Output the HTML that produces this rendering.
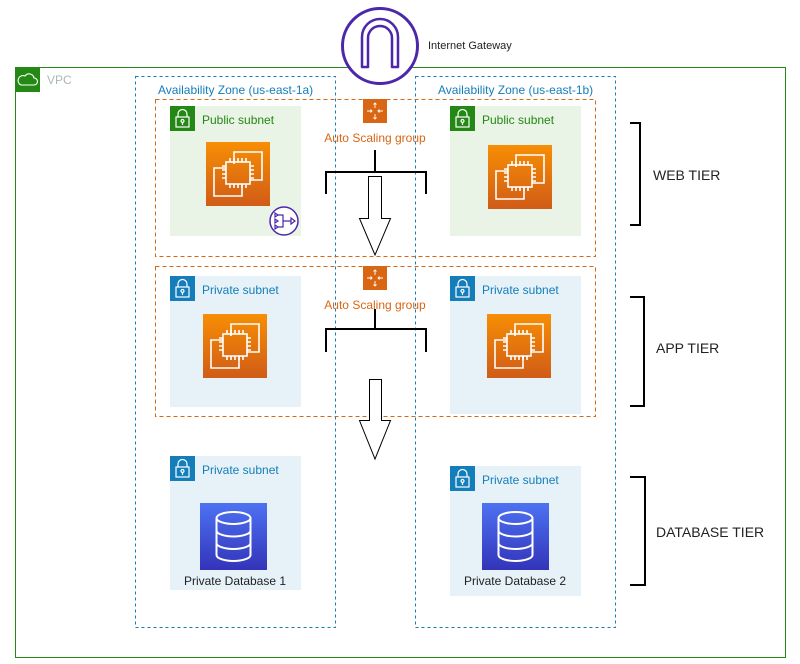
<!DOCTYPE html>
<html><head><meta charset="utf-8"><style>
html,body{margin:0;padding:0;background:#fff;}
svg{display:block;}
text{font-family:"Liberation Sans",Arial,sans-serif;}
</style></head><body>
<svg width="800" height="664" viewBox="0 0 800 664" xmlns="http://www.w3.org/2000/svg">
<defs>
<linearGradient id="og" x1="0" y1="0" x2="0" y2="1"><stop offset="0" stop-color="#F78E04"/><stop offset="1" stop-color="#D05C17"/></linearGradient>
<linearGradient id="bg" x1="0" y1="0" x2="0" y2="1"><stop offset="0" stop-color="#4D72F3"/><stop offset="1" stop-color="#3334B9"/></linearGradient>
<g id="ec2">
<rect x="0" y="0" width="64" height="64" fill="url(#og)"/>
<g fill="none" stroke="#fff" stroke-width="1.6">
<path d="M28 22 V10 H56 V38 H44"/>
<path d="M36 42 V54 H8 V26 H20"/>
<rect x="20" y="20" width="24" height="22"/>
<path d="M24 16v4M28 16v4M32 16v4M36 16v4M40 16v4M24 42v4M28 42v4M32 42v4M36 42v4M40 42v4M16 24h4M16 28h4M16 32h4M16 36h4M44 24h4M44 28h4M44 32h4M44 36h4"/>
</g>
</g>
<g id="db">
<rect x="0" y="0" width="67" height="67" fill="url(#bg)"/>
<g fill="none" stroke="#fff" stroke-width="2">
<ellipse cx="33.5" cy="15" rx="17" ry="6"/>
<path d="M16.5 15 V52 A17 6 0 0 0 50.5 52 V15"/>
<path d="M16.5 27.5 A17 6 0 0 0 50.5 27.5"/>
<path d="M16.5 40 A17 6 0 0 0 50.5 40"/>
</g>
</g>
<g id="lockg">
<rect x="0" y="0" width="25" height="25" fill="#248814"/>
<g fill="none" stroke="#fff" stroke-width="1.2"><rect x="6" y="11" width="13" height="10"/><path d="M8 11 V8 A4.5 4.5 0 0 1 17 8 V11"/><circle cx="12.5" cy="15" r="1.5"/><path d="M12.5 16.5 V19"/></g>
</g>
<g id="lockb">
<rect x="0" y="0" width="25" height="25" fill="#147EBA"/>
<g fill="none" stroke="#fff" stroke-width="1.2"><rect x="6" y="11" width="13" height="10"/><path d="M8 11 V8 A4.5 4.5 0 0 1 17 8 V11"/><circle cx="12.5" cy="15" r="1.5"/><path d="M12.5 16.5 V19"/></g>
</g>
<g id="asg">
<rect x="0" y="0" width="24" height="24" fill="#D86613"/>
<g stroke="#fff" stroke-width="0.9" fill="none"><path d="M12 4v5M12 15v5M4 12h5M15 12h5"/><path d="M10.5 5.5 12 4 13.5 5.5M10.5 18.5 12 20 13.5 18.5M7.5 10.5 9 12 7.5 13.5M16.5 10.5 15 12 16.5 13.5"/></g>
</g>
</defs>

<!-- VPC -->
<rect x="15.5" y="67.5" width="770" height="590" fill="none" stroke="#248814" stroke-width="1"/>
<rect x="15" y="67" width="25" height="25" fill="#248814"/>
<path d="M21 85 h13 a3.5 3.5 0 0 0 0 -7 a5 5 0 0 0 -9 -2 a4 4 0 0 0 -4 9z" fill="none" stroke="#fff" stroke-width="1.1"/>
<text x="47" y="84" font-size="12" fill="#AAB7B8">VPC</text>

<!-- AZs -->
<rect x="135.5" y="76.5" width="200" height="551" fill="none" stroke="#147EBA" stroke-dasharray="3,3"/>
<rect x="415.5" y="76.5" width="200" height="551" fill="none" stroke="#147EBA" stroke-dasharray="3,3"/>
<text x="158" y="94" font-size="12" fill="#147EBA">Availability Zone (us-east-1a)</text>
<text x="438" y="94" font-size="12" fill="#147EBA">Availability Zone (us-east-1b)</text>

<!-- ASGs -->
<rect x="155.5" y="99.5" width="440" height="157" fill="none" stroke="#D86613" stroke-dasharray="4,3"/>
<rect x="155.5" y="266.5" width="440" height="150" fill="none" stroke="#D86613" stroke-dasharray="4,3"/>

<!-- Subnets -->
<rect x="170" y="106" width="131" height="130" fill="#E9F3E6"/>
<rect x="450" y="106" width="131" height="130" fill="#E9F3E6"/>
<rect x="170" y="276" width="131" height="131" fill="#E6F2F8"/>
<rect x="450" y="276" width="131" height="138" fill="#E6F2F8"/>
<rect x="170" y="456" width="131" height="134" fill="#E6F2F8"/>
<rect x="450" y="466" width="131" height="130" fill="#E6F2F8"/>

<use href="#lockg" x="170" y="106"/>
<use href="#lockg" x="450" y="106"/>
<use href="#lockb" x="170" y="276"/>
<use href="#lockb" x="450" y="276"/>
<use href="#lockb" x="170" y="456"/>
<use href="#lockb" x="450" y="466"/>
<text x="202" y="124" font-size="12" fill="#248814">Public subnet</text>
<text x="482" y="124" font-size="12" fill="#248814">Public subnet</text>
<text x="202" y="294" font-size="12" fill="#147EBA">Private subnet</text>
<text x="482" y="294" font-size="12" fill="#147EBA">Private subnet</text>
<text x="202" y="474" font-size="12" fill="#147EBA">Private subnet</text>
<text x="482" y="484" font-size="12" fill="#147EBA">Private subnet</text>

<use href="#ec2" x="206" y="142"/>
<use href="#ec2" x="488" y="145"/>
<use href="#ec2" x="203" y="314"/>
<use href="#ec2" x="487" y="314"/>
<use href="#db" x="200" y="503"/>
<use href="#db" x="482" y="503"/>
<text x="235" y="585" font-size="12" fill="#222" text-anchor="middle">Private Database 1</text>
<text x="515" y="585" font-size="12" fill="#222" text-anchor="middle">Private Database 2</text>

<!-- NAT -->
<circle cx="284" cy="221" r="14" fill="#fff" stroke="#4D27AA" stroke-width="1.5"/>
<g fill="none" stroke="#4D27AA" stroke-width="1.2"><path d="M277 215 h6 v12 h-6 M283 221 h8"/><path d="M291 218 l4 3 -4 3z"/><path d="M275 213 l3 2 -3 2z M275 219 l3 2 -3 2z M275 225 l3 2 -3 2z"/></g>

<!-- ASG icons -->
<use href="#asg" x="363" y="99"/>
<use href="#asg" x="363" y="266"/>
<text x="375" y="142" font-size="12" fill="#D86613" text-anchor="middle">Auto Scaling group</text>
<text x="375" y="309" font-size="12" fill="#D86613" text-anchor="middle">Auto Scaling group</text>

<!-- Brackets -->
<g fill="none" stroke="#000" stroke-width="2">
<path d="M375 150 V172 M326 194 V172 H426 V194"/>
<path d="M375 309 V329 M326 352 V329 H426 V352"/>
</g>
<!-- Arrows -->
<g fill="#fff" stroke="#000" stroke-width="1">
<path d="M368.5 176.5 H381.5 V218.5 H390.5 L375 255 L359.5 218.5 H368.5Z"/>
<path d="M369.5 379.5 H381.5 V420.5 H390.5 L375 459 L359.5 420.5 H369.5Z"/>
</g>

<!-- IGW -->
<circle cx="380" cy="46" r="37.5" fill="#fff" stroke="#4D27AA" stroke-width="3"/>
<path d="M362 67 V37 A18 18 0 0 1 398 37 V67 H392 V38 A12 12 0 0 0 368 38 V67Z" fill="none" stroke="#4D27AA" stroke-width="2.5" stroke-linejoin="round"/>
<text x="428" y="49" font-size="11" fill="#222">Internet Gateway</text>

<!-- Tier brackets -->
<g fill="none" stroke="#000" stroke-width="2">
<path d="M630 123 H640 V225 H630"/>
<path d="M630 297 H644 V406 H630"/>
<path d="M630 477 H645 V585 H630"/>
</g>
<text x="653" y="180" font-size="14" fill="#222">WEB TIER</text>
<text x="656" y="353" font-size="14" fill="#222">APP TIER</text>
<text x="656" y="537" font-size="14" fill="#222">DATABASE TIER</text>
</svg>
</body></html>
